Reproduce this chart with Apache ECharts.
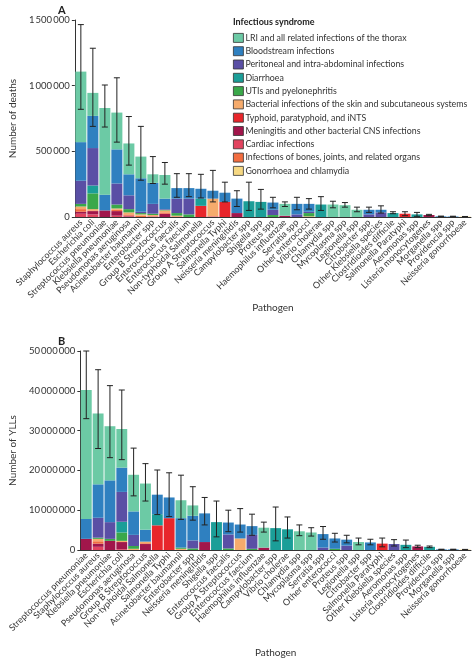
<!DOCTYPE html>
<html>
<head>
<meta charset="utf-8">
<script src="https://cdn.jsdelivr.net/npm/echarts@6/dist/echarts.min.js"></script>
<style>html,body{margin:0;padding:0;background:#fff}#main{width:474px;height:659px}</style>
</head>
<body>
<div id="main"></div>
<script>
// syndromes, bottom of stack first
var syndromes = ['Cardiac infections', 'Meningitis and other bacterial CNS infections', 'Infections of bones, joints, and related organs',
  'Bacterial infections of the skin and subcutaneous systems', 'Gonorrhoea and chlamydia', 'Typhoid, paratyphoid, and iNTS',
  'UTIs and pyelonephritis', 'Diarrhoea', 'Peritoneal and intra-abdominal infections', 'Bloodstream infections', 'LRI and all related infections of the thorax'];
var legendOrder = ['LRI and all related infections of the thorax', 'Bloodstream infections', 'Peritoneal and intra-abdominal infections', 'Diarrhoea',
  'UTIs and pyelonephritis', 'Bacterial infections of the skin and subcutaneous systems', 'Typhoid, paratyphoid, and iNTS',
  'Meningitis and other bacterial CNS infections', 'Cardiac infections', 'Infections of bones, joints, and related organs', 'Gonorrhoea and chlamydia'];
var colors = ['#e2435f', '#a1164b', '#f26d40', '#f6ab6c', '#f6d882', '#e8262b', '#3aa84a', '#1b9e98', '#5a4fa5', '#2f80c0', '#6ccaa5'];

// Panel A: deaths (thousands)
var pathA = ['Staphylococcus aureus', 'Escherichia coli', 'Streptococcus pneumoniae', 'Klebsiella pneumoniae', 'Pseudomonas aeruginosa',
  'Acinetobacter baumannii', 'Enterobacter spp', 'Group B Streptococcus', 'Enterococcus faecalis', 'Enterococcus faecium',
  'Non-typhoidal Salmonella', 'Group A Streptococcus', 'Salmonella Typhi', 'Neisseria meningitidis', 'Campylobacter spp',
  'Shigella spp', 'Proteus spp', 'Haemophilus influenzae', 'Serratia spp', 'Other enterococci', 'Vibrio cholerae', 'Chlamydia spp',
  'Mycoplasma spp', 'Legionella spp', 'Citrobacter spp', 'Other Klebsiella species', 'Clostridioides difficile', 'Salmonella Paratyphi',
  'Aeromonas spp', 'Listeria monocytogenes', 'Morganella spp', 'Providencia spp', 'Neisseria gonorrhoeae'];
var cardA  = [25,20,0,10,5,0,5,0,0,0,0,5,0,0,0,0,0,0,0,0,0,0,0,0,0,0,0,0,0,0,0,0,0];
var menA   = [15,25,50,35,5,0,0,25,0,0,0,0,0,30,0,0,0,10,0,0,0,0,0,0,0,0,0,0,0,15,0,0,0];
var boneA  = [20,5,0,10,10,10,0,10,5,0,0,0,0,0,0,0,0,0,0,0,0,0,0,0,0,0,0,0,0,0,0,0,0];
var skinA  = [20,10,0,10,15,10,10,15,5,0,0,135,0,0,0,0,0,0,0,5,0,0,0,0,0,0,0,0,0,0,0,0,0];
var gonoA  = [0,0,0,0,0,0,0,0,0,0,0,0,0,0,0,0,0,0,0,0,0,0,0,0,0,0,0,0,0,0,0,0,3];
var typhA  = [0,0,0,0,0,0,0,0,0,0,85,0,115,0,0,0,0,0,0,0,0,0,0,0,0,0,0,25,0,0,0,0,0];
var utiA   = [20,120,0,30,25,10,10,5,20,20,0,0,0,0,0,0,15,0,0,25,0,0,0,0,0,0,0,0,0,0,0,0,0];
var diarA  = [0,60,0,0,0,0,0,0,0,0,55,0,0,0,120,115,0,0,0,0,95,0,0,0,0,0,30,0,20,0,0,0,0];
var peritA = [176,285,0,160,105,10,75,5,110,120,0,0,0,0,0,0,40,0,20,10,0,0,0,0,20,35,0,0,0,0,0,0,0];
var bloodA = [294,245,120,260,160,255,160,80,80,80,75,60,70,110,0,0,55,0,80,60,0,0,0,0,35,20,0,0,0,0,5,4,0];
var lriA   = [537,175,660,280,235,165,65,180,0,0,0,0,0,0,0,0,0,90,0,0,0,95,90,55,0,0,0,0,0,0,0,0,0];
var lowA   = [820,690,685,570,395,280,255,250,150,155,145,115,115,80,50,60,70,80,55,60,50,70,75,40,35,30,25,10,5,10,3,2,2];
var highA  = [1465,1285,1005,1060,765,690,460,415,330,330,325,355,265,200,265,210,150,115,150,140,155,120,110,75,75,85,40,40,35,20,7,6,4];

// Panel B: YLLs (millions)
var pathB = ['Streptococcus pneumoniae', 'Staphylococcus aureus', 'Klebsiella pneumoniae', 'Escherichia coli', 'Pseudomonas aeruginosa',
  'Group B Streptococcus', 'Non-typhoidal Salmonella', 'Salmonella Typhi', 'Acinetobacter baumannii', 'Enterobacter spp',
  'Neisseria meningitidis', 'Shigella spp', 'Enterococcus faecalis', 'Group A Streptococcus', 'Enterococcus faecium',
  'Haemophilus influenzae', 'Campylobacter spp', 'Vibrio cholerae', 'Chlamydia spp', 'Mycoplasma spp', 'Serratia spp',
  'Other enterococci', 'Proteus spp', 'Legionella spp', 'Citrobacter spp', 'Salmonella Paratyphi', 'Other Klebsiella species',
  'Aeromonas spp', 'Listeria monocytogenes', 'Clostridioides difficile', 'Providencia spp', 'Morganella spp', 'Neisseria gonorrhoeae'];
var cardB  = [0,0.8,0,0.2,0,0,0,0,0,0,0,0,0,0,0,0,0,0,0,0,0,0,0,0,0,0,0,0,0,0,0,0,0];
var menB   = [2.8,0.8,2.3,1.8,0,1.5,0,0,0,0,2.0,0,0,0,0,0.6,0,0,0,0,0,0,0,0,0,0,0,0,0.9,0,0,0,0];
var boneB  = [0,0.6,0,0,0,0.2,0,0,0,0,0,0,0,0,0,0,0,0,0,0,0,0,0,0,0,0,0,0,0,0,0,0,0];
var skinB  = [0,0.6,0,0.3,0.3,0.4,0,0,0.3,0,0,0,0,2.9,0,0,0,0,0,0,0,0,0,0,0,0,0,0,0,0,0,0,0];
var gonoB  = [0,0,0,0,0,0,0,0,0,0,0,0,0,0,0,0,0,0,0,0,0,0,0,0,0,0,0,0,0,0,0,0,0.1];
var typhB  = [0,0,0,0,0,0,6.2,8.0,0,0,0,0,0,0,0,0,0,0,0,0,0,0,0,0,0,1.6,0,0,0,0,0,0,0];
var utiB   = [0,0.3,0.5,2.1,0.7,0,0,0,0.3,0.4,0,0,0.4,0,0.3,0,0,0,0,0,0,0.3,0,0,0,0,0,0,0,0,0,0,0];
var diarB  = [0,0,0,2.7,0,0,2.8,0,0,0,0,7.0,0,0,0,0,5.5,5.2,0,0,0,0,0,0,0,0,0,1.3,0,0.8,0,0,0];
var peritB = [0,5.0,4.2,7.5,2.8,0,0,0,0,2.0,0,0,3.5,0,3.5,0,0,0,0,0,0.6,0,1.1,0,0,0,1.5,0,0,0,0,0,0];
var bloodB = [5.0,8.4,10.5,6.1,5.9,3.0,4.9,5.2,7.4,6.2,7.2,0,3.0,3.5,2.2,0,0,0,0,0,3.4,2.6,1.5,0,1.9,0,0,0,0,0,0.15,0.15,0];
var lriB   = [32.4,17.8,13.6,9.7,9.2,11.6,0,0,4.5,2.6,0,0,0,0,0,5.0,0,0,4.7,4.4,0,0,0,2.0,0,0,0,0,0,0,0,0,0];
var lowB   = [33,25.5,23.2,22.7,13.6,12.3,8.9,8.4,7.7,7.5,6.3,3.3,4.6,4.5,3.7,4.5,2.3,3.0,3.6,3.5,2.7,2.0,1.8,1.3,1.3,0.8,1.0,0.6,0.6,0.6,0.1,0.1,0.05];
var highB  = [50,45.3,41.3,40.2,25.6,21.7,20.1,19.4,18.8,15.9,13.2,12.3,10,10.4,9.0,7.0,10.8,8.3,6.3,5.6,5.9,4.2,3.7,3.0,2.7,3.0,2.6,2.5,1.2,1.0,0.2,0.2,0.15];

var stackA = [cardA, menA, boneA, skinA, gonoA, typhA, utiA, diarA, peritA, bloodA, lriA];
var stackB = [cardB, menB, boneB, skinB, gonoB, typhB, utiB, diarB, peritB, bloodB, lriB];

var font = 'Lato';
function fmt(v) {
  return String(Math.round(v)).replace(/\B(?=(\d{3})+(?!\d))/g, '\u2009');
}

var series = [];
function addPanel(stack, low, high, scale, idx) {
  stack.forEach(function (arr, i) {
    series.push({
      name: syndromes[i], type: 'bar', stack: 'p' + idx, xAxisIndex: idx, yAxisIndex: idx,
      barCategoryGap: '8%',
      itemStyle: { color: colors[i] },
      data: arr.map(function (v) { return v * scale; })
    });
  });
  series.push({
    type: 'custom', xAxisIndex: idx, yAxisIndex: idx, z: 10,
    data: low.map(function (l, j) { return [j, l * scale, high[j] * scale]; }),
    renderItem: function (params, api) {
      var lo = api.coord([api.value(0), api.value(1)]);
      var hi = api.coord([api.value(0), api.value(2)]);
      var w = 3;
      var st = { stroke: '#222', lineWidth: 1 };
      return { type: 'group', children: [
        { type: 'line', shape: { x1: lo[0], y1: lo[1], x2: hi[0], y2: hi[1] }, style: st },
        { type: 'line', shape: { x1: lo[0] - w, y1: lo[1], x2: lo[0] + w, y2: lo[1] }, style: st },
        { type: 'line', shape: { x1: hi[0] - w, y1: hi[1], x2: hi[0] + w, y2: hi[1] }, style: st }
      ] };
    }
  });
}
addPanel(stackA, lowA, highA, 1000, 0);
addPanel(stackB, lowB, highB, 1000000, 1);

function xAxis(cats, idx, gap) {
  return {
    type: 'category', gridIndex: idx, data: cats,
    name: 'Pathogen', nameLocation: 'middle', nameGap: gap,
    nameTextStyle: { fontFamily: font, fontSize: 10, color: '#333' },
    axisLine: { lineStyle: { color: '#333' } },
    axisTick: { alignWithLabel: true, length: 3, lineStyle: { color: '#333' } },
    axisLabel: { rotate: 45, interval: 0, fontFamily: font, fontSize: 9, color: '#333', margin: 4 }
  };
}
function yAxis(name, max, interval, idx) {
  return {
    type: 'value', gridIndex: idx, min: 0, max: max, interval: interval,
    name: name, nameLocation: 'middle', nameGap: 52,
    nameTextStyle: { fontFamily: font, fontSize: 10, color: '#333' },
    splitLine: { show: false },
    axisLine: { show: true, lineStyle: { color: '#333' } },
    axisTick: { show: true, length: 3, lineStyle: { color: '#333' } },
    axisLabel: { formatter: fmt, fontFamily: font, fontSize: 9.5, color: '#333', margin: 5 }
  };
}

var myChart = echarts.init(document.getElementById('main'));
var option = {
  animation: false,
  grid: [
    { left: 69, right: 3, top: 20, height: 197 },
    { left: 69, right: 3, top: 351, height: 212 }
  ],
  xAxis: [xAxis(pathA, 0, 84), xAxis(pathB, 1, 98)],
  yAxis: [yAxis('Number of deaths', 1500000, 500000, 0), yAxis('Number of YLLs', 50000000, 10000000, 1)],
  title: [
    { text: 'A', left: 53, top: 0, textStyle: { fontFamily: font, fontSize: 11, fontWeight: 'bold', color: '#222' } },
    { text: 'B', left: 53, top: 331, textStyle: { fontFamily: font, fontSize: 11, fontWeight: 'bold', color: '#222' } },
    { text: 'Infectious syndrome', left: 228, top: 13, textStyle: { fontFamily: font, fontSize: 9, fontWeight: 'bold', color: '#222' } }
  ],
  legend: {
    data: legendOrder, orient: 'vertical', left: 228, top: 28,
    itemWidth: 10, itemHeight: 9, itemGap: 3.5, icon: 'rect',
    itemStyle: { borderColor: '#333', borderWidth: 0.8 },
    textStyle: { fontFamily: font, fontSize: 8.8, color: '#333', padding: [0, 0, 0, -3] }
  },
  series: series
};
myChart.setOption(option);
</script>
</body>
</html>
